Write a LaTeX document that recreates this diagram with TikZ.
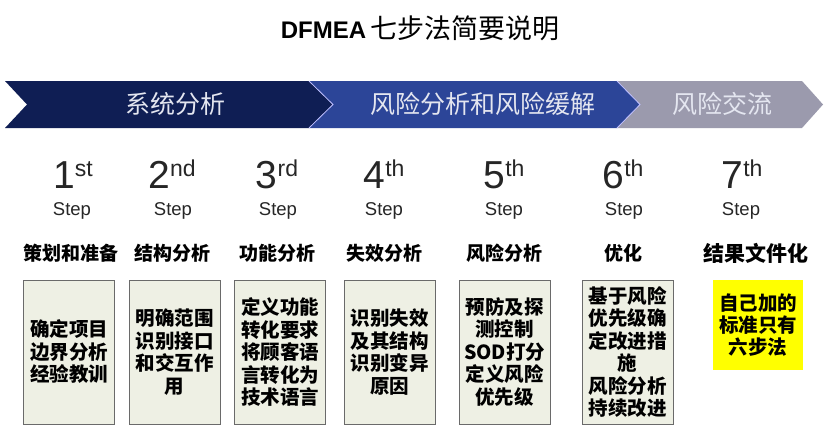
\documentclass[tikz,border=0pt]{standalone}
\usepackage{fontspec}
\setmainfont{Liberation Sans}
\newfontfamily\cjk{Noto Sans CJK SC}
\definecolor{segA}{HTML}{0F1E54}
\definecolor{segB}{HTML}{2C4598}
\definecolor{segC}{HTML}{9B9AAD}
\definecolor{bannertxt}{HTML}{E4E6F0}
\definecolor{boxfill}{HTML}{EEF0E4}
\definecolor{boxline}{HTML}{6A6A6A}
\definecolor{hl}{HTML}{FFFF00}
\newcommand{\stnum}[2]{{\fontsize{39}{39}\selectfont #1}\raisebox{12pt}{\fontsize{23}{23}\selectfont #2}}
\tikzset{
  seg/.style={draw=white!75!blue, line width=0.8pt},
  bantext/.style={text=bannertxt, font=\cjk\fontsize{25}{25}\selectfont, inner sep=0pt},
  numtext/.style={anchor=base, inner sep=0pt, text=black!85},
  steptext/.style={anchor=base, inner sep=0pt, font=\fontsize{18.5}{18.5}\selectfont, text=black!85},
  labtext/.style={inner sep=0pt, font=\cjk\bfseries\fontsize{19}{19}\selectfont},
  infobox/.style={draw=boxline, line width=0.8pt, fill=boxfill, minimum width=91pt, minimum height=144pt, inner sep=0pt, align=center, font=\cjk\bfseries\fontsize{19.5}{22.5}\selectfont},
  notebox/.style={fill=hl, minimum width=90pt, minimum height=90pt, inner sep=0pt, align=center, font=\cjk\bfseries\fontsize{19.5}{22}\selectfont}
}
\begin{document}
\begin{tikzpicture}[x=1pt,y=-1pt]
\useasboundingbox[fill=white] (0,0) rectangle (837,432);
% title
\node[inner sep=0pt] (title) at (420,28) {\fontsize{24}{24}\selectfont\bfseries DFMEA\,{\cjk\mdseries\fontsize{27}{27}\selectfont 七步法简要说明}};
% banner
\fill[segA] (5,81) -- (309,81) -- (333,104.5) -- (309,128) -- (5,128) -- (27,104.5) -- cycle;
\fill[segB] (309,81) -- (617,81) -- (640,104.5) -- (617,128) -- (309,128) -- (333,104.5) -- cycle;
\fill[segC] (617,81) -- (802,81) -- (823,104.5) -- (802,128) -- (617,128) -- (640,104.5) -- cycle;
\draw[seg] (309,81) -- (333,104.5) -- (309,128);
\draw[seg] (617,81) -- (640,104.5) -- (617,128);
\node[bantext] (b1) at (175,104) {系统分析};
\node[bantext] (b2) at (483,104) {风险分析和风险缓解};
\node[bantext] (b3) at (722,104) {风险交流};
% step numbers
\node[numtext] (n1) at (73,188) {\stnum{1}{st}};
\node[numtext] (n2) at (172,188) {\stnum{2}{nd}};
\node[numtext] (n3) at (277,188) {\stnum{3}{rd}};
\node[numtext] (n4) at (384,188) {\stnum{4}{th}};
\node[numtext] (n5) at (504,188) {\stnum{5}{th}};
\node[numtext] (n6) at (623,188) {\stnum{6}{th}};
\node[numtext] (n7) at (742,188) {\stnum{7}{th}};
\node[steptext] (s1) at (72,215) {Step};
\node[steptext] (s2) at (173,215) {Step};
\node[steptext] (s3) at (278,215) {Step};
\node[steptext] (s4) at (384,215) {Step};
\node[steptext] (s5) at (504,215) {Step};
\node[steptext] (s6) at (624,215) {Step};
\node[steptext] (s7) at (741,215) {Step};
% labels
\node[labtext] (l1) at (71,253) {策划和准备};
\node[labtext] (l2) at (172,253) {结构分析};
\node[labtext] (l3) at (277,253) {功能分析};
\node[labtext] (l4) at (384,253) {失效分析};
\node[labtext] (l5) at (504,253) {风险分析};
\node[labtext] (l6) at (623,253) {优化};
\node[labtext, font=\cjk\bfseries\fontsize{21}{21}\selectfont] (l7) at (756,253) {结果文件化};
% boxes
\node[infobox] (x1) at (69,352) {确定项目\\边界分析\\经验教训};
\node[infobox] (x2) at (174.5,352) {明确范围\\识别接口\\和交互作\\用};
\node[infobox] (x3) at (280,352) {定义功能\\转化要求\\将顾客语\\言转化为\\技术语言};
\node[infobox] (x4) at (389.5,352) {识别失效\\及其结构\\识别变异\\原因};
\node[infobox] (x5) at (504.5,352) {预防及探\\测控制\\SOD打分\\定义风险\\优先级};
\node[infobox] (x6) at (627.5,352) {基于风险\\优先级确\\定改进措\\施\\风险分析\\持续改进};
\node[notebox] (x7) at (758,325) {自己加的\\标准只有\\六步法};
\end{tikzpicture}
\end{document}
